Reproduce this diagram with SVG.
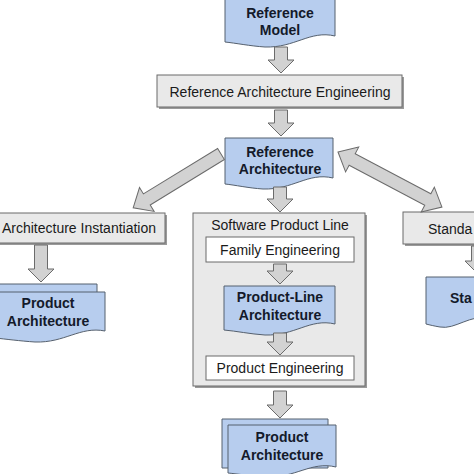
<svg xmlns="http://www.w3.org/2000/svg" width="474" height="474" viewBox="0 0 474 474">
<style>
.box{fill:#e9e9e9;stroke:#6b6b6b;stroke-width:1}
.wbox{fill:#ffffff;stroke:#6b6b6b;stroke-width:1}
.shadow{fill:#9a9a9a}
.doc{fill:#b7cdee;stroke:#55606e;stroke-width:1}
.arrow{fill:#d2d2d2;stroke:#6b6b6b;stroke-width:1;stroke-linejoin:miter}
.t{font-family:"Liberation Sans",Arial,sans-serif;font-size:14px;fill:#1a1a1a;text-anchor:middle;dominant-baseline:central}
.tb{font-family:"Liberation Sans",Arial,sans-serif;font-size:14px;font-weight:bold;fill:#141a2a;text-anchor:middle;dominant-baseline:central}
</style>
<rect width="474" height="474" fill="#ffffff"/>

<g id="reference-model">
<path class="doc" d="M225,-5 H335 V36 C310,30 295,48 265,47 C250,46 235,43 225,42 Z"/>
<text class="tb" x="280" y="13">Reference</text>
<text class="tb" x="280" y="30">Model</text>
</g>

<g id="ref-arch-engineering">
<rect class="shadow" x="159" y="77" width="245" height="32"/>
<rect class="box" x="157" y="75" width="245" height="32"/>
<text class="t" x="280" y="92">Reference Architecture Engineering</text>
</g>

<g id="reference-architecture">
<path class="doc" d="M225,138 H333 V178 C308,172 293,190 263,189 C248,188 235,185 225,184 Z"/>
<text class="tb" x="280" y="152">Reference</text>
<text class="tb" x="280" y="169">Architecture</text>
</g>

<g id="architecture-instantiation">
<rect class="shadow" x="-3" y="215" width="170" height="30"/>
<rect class="box" x="-5" y="213" width="170" height="30"/>
<text class="t" x="79" y="228">Architecture Instantiation</text>
</g>

<g id="product-architecture-left">
<path class="doc" d="M-5,284 H97 V328 L-5,328 Z"/>
<path class="doc" d="M-5,292 H105 V331 C80,326 65,343 35,342 C20,341 5,339 -5,338 Z"/>
<text class="tb" x="48" y="303">Product</text>
<text class="tb" x="48" y="321">Architecture</text>
</g>

<g id="software-product-line">
<rect class="shadow" x="195" y="215" width="172" height="173"/>
<rect class="box" x="193" y="213" width="172" height="173"/>
<text class="t" x="280" y="225">Software Product Line</text>
</g>

<g id="family-engineering">
<rect class="wbox" x="206" y="237" width="148" height="25"/>
<text class="t" x="280" y="249.5">Family Engineering</text>
</g>

<g id="product-line-architecture">
<path class="doc" d="M224,286 H335 V324 C310,318 295,336 265,335 C250,334 236,331 224,330 Z"/>
<text class="tb" x="280" y="297">Product-Line</text>
<text class="tb" x="280" y="315">Architecture</text>
</g>

<g id="product-engineering">
<rect class="wbox" x="206" y="356" width="148" height="24"/>
<text class="t" x="280" y="368">Product Engineering</text>
</g>

<g id="product-architecture-bottom">
<path class="doc" d="M222,419 H328 V468 L222,468 Z"/>
<path class="doc" d="M228,425 H336 V467 C311,461 296,478 266,477 C251,476 238,474 228,473 Z"/>
<text class="tb" x="282" y="437">Product</text>
<text class="tb" x="282" y="455">Architecture</text>
</g>

<g id="standard-box">
<rect class="shadow" x="405" y="214" width="80" height="32"/>
<rect class="box" x="403" y="212" width="80" height="32"/>
<text class="t" x="428" y="229" style="text-anchor:start">Standa</text>
</g>

<g id="standard-doc">
<path class="doc" d="M426,277 H490 V318 C470,314 455,330 440,327 C434,326 430,325 426,324 Z"/>
<text class="tb" x="450" y="298" style="text-anchor:start">Sta</text>
</g>

<g id="connectors">
<polygon class="arrow" points="274.5,47 287.5,47 287.5,60 294,60 281,73 268,60 274.5,60"/>
<polygon class="arrow" points="274.5,110 287.5,110 287.5,123 294,123 281,136 268,123 274.5,123"/>
<polygon class="arrow" points="273.5,187 286.5,187 286.5,199 293,199 280,212 267,199 273.5,199"/>
<polygon class="arrow" points="273.5,264 286.5,264 286.5,271 293,271 280,284 267,271 273.5,271"/>
<polygon class="arrow" points="273.5,333 286.5,333 286.5,342 293,342 280,355 267,342 273.5,342"/>
<polygon class="arrow" points="273.5,391 286.5,391 286.5,405 293,405 280,418 267,405 273.5,405"/>
<polygon class="arrow" points="34.5,245 47.5,245 47.5,269 54,269 41,282 28,269 34.5,269"/>
<polygon class="arrow" points="471.5,246 484.5,246 484.5,261 491,261 478,274 465,261 471.5,261"/>
<polygon class="arrow" transform="translate(221,154) rotate(148.5)" points="0,-6.5 87,-6.5 87,-14 103,0 87,14 87,6.5 0,6.5"/>
<polygon class="arrow" transform="translate(338,152) rotate(27.9)" points="0,0 16,-14 16,-6.5 101.6,-6.5 101.6,-14 117.6,0 101.6,14 101.6,6.5 16,6.5 16,14"/>
</g>
</svg>
